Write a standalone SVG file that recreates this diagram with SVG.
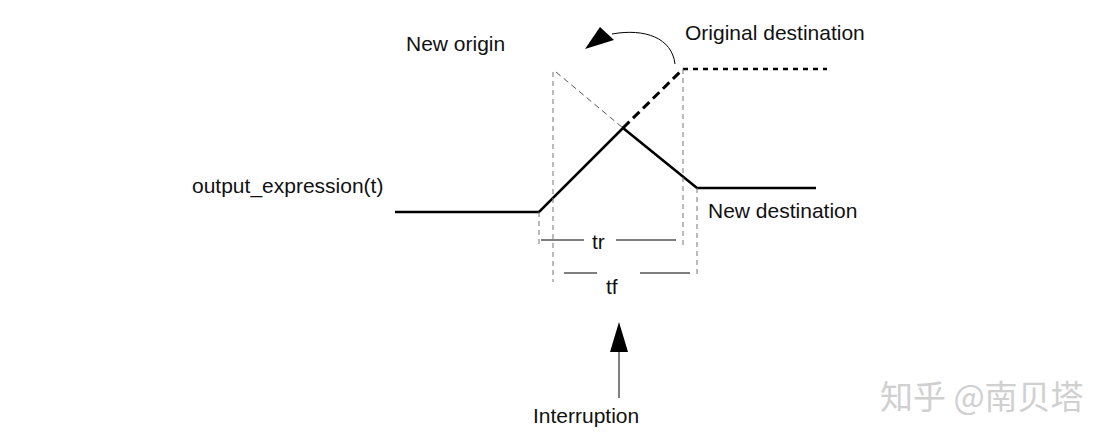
<svg xmlns="http://www.w3.org/2000/svg" width="1115" height="441" viewBox="0 0 1115 441">
<style>
text{font-family:"Liberation Sans",Arial,sans-serif;font-size:21px;fill:#111}
.thick{stroke:#000;stroke-width:2.6;fill:none}
.guide{stroke:#777;stroke-width:1;stroke-dasharray:5 4;fill:none}
.dim{stroke:#000;stroke-width:1;fill:none}
</style>
<rect width="1115" height="441" fill="#fff"/>
<g id="connectors">
<polyline class="thick" points="395,212 539,212 623,128 697,188 816,188"/>
<line x1="623" y1="128" x2="683" y2="69" stroke="#000" stroke-width="3" stroke-dasharray="9 5"/>
<line x1="683" y1="69" x2="827" y2="69" stroke="#000" stroke-width="2.6" stroke-dasharray="5 5"/>
<line x1="556" y1="72" x2="623" y2="128" stroke="#555" stroke-width="1" stroke-dasharray="6 4"/>
<line class="guide" x1="539" y1="212" x2="539" y2="246"/>
<line class="guide" x1="553" y1="72" x2="553" y2="282"/>
<line class="guide" x1="683" y1="69" x2="683" y2="246"/>
<line class="guide" x1="697" y1="188" x2="697" y2="274"/>
<line class="dim" x1="541" y1="240" x2="584" y2="240"/>
<line class="dim" x1="616" y1="240" x2="676" y2="240"/>
<line class="dim" x1="564" y1="273" x2="597" y2="273"/>
<line class="dim" x1="640" y1="273" x2="690" y2="273"/>
<path d="M675,64 C672,38 645,28 612,34" fill="none" stroke="#000" stroke-width="1"/>
<polygon points="585,49 600,27 614,40" fill="#000"/>
<line x1="619" y1="350" x2="619" y2="398" stroke="#000" stroke-width="1"/>
<polygon points="619,322 610,352 628,352" fill="#000"/>
</g>
<g id="labels">
<text x="406" y="51">New origin</text>
<text x="685" y="40">Original destination</text>
<text x="192" y="193">output_expression(t)</text>
<text x="708" y="218">New destination</text>
<text x="592" y="249">tr</text>
<text x="606" y="294">tf</text>
<text x="533" y="423">Interruption</text>
</g>
<text x="880" y="409" style="font-family:'Noto Sans CJK SC',sans-serif;font-size:33px;fill:#d0d0d0">知乎 @南贝塔</text>
</svg>
